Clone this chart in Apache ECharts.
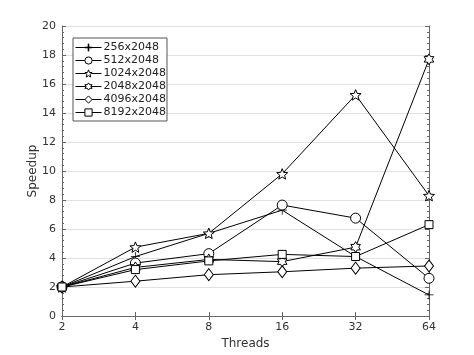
<!DOCTYPE html>
<html>
<head>
<meta charset="utf-8">
<script src="https://cdn.jsdelivr.net/npm/echarts@6/dist/echarts.min.js"></script>
<style>html,body{margin:0;padding:0;background:#fff;}#c{width:474px;height:355px;}</style>
</head>
<body>
<div id="c"></div>
<script>
const threads = [2, 4, 8, 16, 32, 64];
const names = ['256x2048', '512x2048', '1024x2048', '2048x2048', '4096x2048', '8192x2048'];
const s256  = [2.0, 4.1, 5.7, 7.3, 4.1, 1.45];
const s512  = [2.0, 3.65, 4.3, 7.65, 6.75, 2.6];
const s1024 = [2.0, 4.75, 5.7, 9.8, 15.25, 8.3];
const s2048 = [2.0, 3.35, 3.9, 3.75, 4.75, 17.7];
const s4096 = [2.0, 2.4, 2.85, 3.05, 3.3, 3.45];
const s8192 = [2.0, 3.2, 3.8, 4.25, 4.1, 6.3];
const yTicks = [0, 2, 4, 6, 8, 10, 12, 14, 16, 18, 20];

const PLUS = 'path://M0,4.6H10V5.4H0Z M4.6,0H5.4V10H4.6Z';
const STAR5 = 'path://M5,0 L6.29,3.22 L9.76,3.45 L7.09,5.68 L7.94,9.05 L5,7.2 L2.06,9.05 L2.91,5.68 L0.24,3.45 L3.71,3.22 Z';
const HEX = 'path://M5,0 L6.44,2.5 L9.33,2.5 L7.89,5 L9.33,7.5 L6.44,7.5 L5,10 L3.56,7.5 L0.67,7.5 L2.11,5 L0.67,2.5 L3.56,2.5 Z';
const symbols = [PLUS, 'circle', STAR5, HEX, 'diamond', 'rect'];
const sizes = [[9, 9], 10, 11, 11, [9, 12], 8];
const values = [s256, s512, s1024, s2048, s4096, s8192];

const frameColor = '#666';
const textColor = '#333';
const font = 'DejaVu Sans';

const series = values.map((v, i) => ({
  name: names[i],
  type: 'line',
  data: threads.map((t, j) => [t, v[j]]),
  symbol: symbols[i],
  symbolSize: sizes[i],
  symbolKeepAspect: true,
  showAllSymbol: true,
  lineStyle: { color: '#000', width: 1 },
  itemStyle: i === 0 ? { color: '#000', borderColor: '#000', borderWidth: 0 }
                     : { color: '#fff', borderColor: '#000', borderWidth: 1 },
  emphasis: { disabled: true },
  z: 3
}));

const chart = echarts.init(document.getElementById('c'), null, { renderer: 'canvas' });
chart.setOption({
  animation: false,
  backgroundColor: '#fff',
  textStyle: { fontFamily: font },
  grid: { left: 62, right: 45, top: 26, bottom: 39, containLabel: false },
  legend: {
    orient: 'vertical',
    left: 73, top: 38,
    padding: [3, 1, 2, 2],
    itemWidth: 26, itemHeight: 9, itemGap: 0,
    borderColor: '#555', borderWidth: 1,
    backgroundColor: '#fff',
    lineStyle: { width: 1 },
    itemStyle: { borderWidth: 1 },
    textStyle: { fontFamily: font, fontSize: 11, color: '#222', padding: [0, 0, 0, -3], lineHeight: 13 },
    data: names
  },
  xAxis: [{
    type: 'log', logBase: 2, min: 2, max: 64,
    name: 'Threads', nameLocation: 'middle', nameGap: 22,
    nameTextStyle: { fontFamily: font, fontSize: 12, color: textColor },
    axisLine: { lineStyle: { color: frameColor, width: 1 } },
    axisTick: { inside: true, length: 4, lineStyle: { color: frameColor } },
    axisLabel: { fontFamily: font, fontSize: 11, color: textColor, margin: 6 },
    splitLine: { show: false }
  }, {
    type: 'log', logBase: 2, min: 2, max: 64, position: 'top',
    axisLine: { lineStyle: { color: frameColor, width: 1 } },
    axisTick: { inside: true, length: 4, lineStyle: { color: frameColor } },
    axisLabel: { show: false },
    splitLine: { show: false }
  }],
  yAxis: [{
    type: 'value', min: yTicks[0], max: yTicks[yTicks.length - 1], interval: 2,
    name: 'Speedup', nameLocation: 'middle', nameGap: 23, nameMoveOverlap: false,
    nameTextStyle: { fontFamily: font, fontSize: 12, color: textColor },
    axisLine: { show: true, lineStyle: { color: frameColor, width: 1 } },
    axisTick: { show: true, inside: true, length: 4, lineStyle: { color: frameColor } },
    minorTick: { show: true, splitNumber: 5, length: 2, lineStyle: { color: frameColor } },
    axisLabel: { fontFamily: font, fontSize: 11, color: textColor, margin: 6 },
    splitLine: { show: true, lineStyle: { color: '#e2e2e2', width: 1 } }
  }, {
    type: 'value', min: yTicks[0], max: yTicks[yTicks.length - 1], interval: 2, position: 'right',
    axisLine: { show: true, lineStyle: { color: frameColor, width: 1 } },
    axisTick: { show: true, inside: true, length: 4, lineStyle: { color: frameColor } },
    minorTick: { show: true, splitNumber: 5, length: 2, lineStyle: { color: frameColor } },
    axisLabel: { show: false },
    splitLine: { show: false }
  }],
  series: series
});
</script>
</body>
</html>
